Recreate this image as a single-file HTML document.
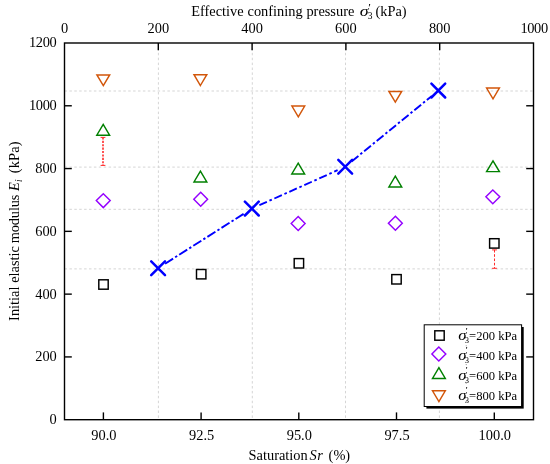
<!DOCTYPE html>
<html lang="en"><head><meta charset="utf-8"><title>Initial elastic modulus vs saturation</title>
<style>html,body{margin:0;padding:0;background:#fff}svg{display:block;font-family:"Liberation Serif","Times New Roman",serif;font-size:14.4px;fill:#000}</style></head><body>
<svg width="550" height="464" viewBox="0 0 550 464">
<rect width="550" height="464" fill="#fff"/>
<g stroke="#d5d5d5" stroke-width="1" stroke-dasharray="2.5 2.4" fill="none">
<line x1="158.4" y1="43.0" x2="158.4" y2="419.7"/>
<line x1="252.3" y1="43.0" x2="252.3" y2="419.7"/>
<line x1="345.5" y1="43.0" x2="345.5" y2="419.7"/>
<line x1="439.4" y1="43.0" x2="439.4" y2="419.7"/>
<line x1="64.5" y1="91" x2="533.5" y2="91"/>
<line x1="64.5" y1="167.1" x2="533.5" y2="167.1"/>
<line x1="64.5" y1="209.3" x2="533.5" y2="209.3"/>
<line x1="64.5" y1="268.9" x2="533.5" y2="268.9"/>
</g>
<g stroke="#000" stroke-width="1.4" fill="none" stroke-linecap="butt">
<rect x="64.5" y="43.0" width="469.0" height="376.7"/>
<line x1="64.5" y1="356.92" x2="71.8" y2="356.92"/><line x1="533.5" y1="356.92" x2="526.2" y2="356.92"/>
<line x1="64.5" y1="294.13" x2="71.8" y2="294.13"/><line x1="533.5" y1="294.13" x2="526.2" y2="294.13"/>
<line x1="64.5" y1="231.35" x2="71.8" y2="231.35"/><line x1="533.5" y1="231.35" x2="526.2" y2="231.35"/>
<line x1="64.5" y1="168.57" x2="71.8" y2="168.57"/><line x1="533.5" y1="168.57" x2="526.2" y2="168.57"/>
<line x1="64.5" y1="105.78" x2="71.8" y2="105.78"/><line x1="533.5" y1="105.78" x2="526.2" y2="105.78"/>
<line x1="158.30" y1="43.0" x2="158.30" y2="50.3"/>
<line x1="252.10" y1="43.0" x2="252.10" y2="50.3"/>
<line x1="345.90" y1="43.0" x2="345.90" y2="50.3"/>
<line x1="439.70" y1="43.0" x2="439.70" y2="50.3"/>
<line x1="103.4" y1="419.7" x2="103.4" y2="412.4"/>
<line x1="201.1" y1="419.7" x2="201.1" y2="412.4"/>
<line x1="298.8" y1="419.7" x2="298.8" y2="412.4"/>
<line x1="396.5" y1="419.7" x2="396.5" y2="412.4"/>
<line x1="494.3" y1="419.7" x2="494.3" y2="412.4"/>
</g>
<g text-anchor="end">
<text x="56.8" y="424.2">0</text>
<text x="56.8" y="361.4">200</text>
<text x="56.8" y="298.6">400</text>
<text x="56.8" y="235.8">600</text>
<text x="56.8" y="173.1">800</text>
<text x="56.4" y="110.3" letter-spacing="-0.35">1000</text>
<text x="56.4" y="46.9" letter-spacing="-0.35">1200</text>
</g><g text-anchor="middle">
<text x="64.5" y="32.5">0</text>
<text x="158.3" y="32.5">200</text>
<text x="252.1" y="32.5">400</text>
<text x="345.9" y="32.5">600</text>
<text x="439.7" y="32.5">800</text>
<text x="534.1" y="32.5" letter-spacing="-0.35">1000</text>
<text x="103.9" y="439.8">90.0</text>
<text x="201.6" y="439.8">92.5</text>
<text x="299.3" y="439.8">95.0</text>
<text x="397.0" y="439.8">97.5</text>
<text x="494.8" y="439.8">100.0</text>
</g>
<text x="191.2" y="15.8">Effective</text><text x="247.5" y="15.8">confining</text><text x="306.4" y="15.8">pressure</text><text transform="translate(359.8 15.8) scale(1.2 1)" font-style="italic" font-size="15">σ</text>
<text x="367.8" y="18.6" font-size="9.5">3</text><text x="368.2" y="10.6" font-size="9.5" font-weight="bold">′</text><text x="375.4" y="15.8">(kPa)</text>
<text x="248.6" y="459.6">Saturation</text><text x="309.4" y="459.6" font-style="italic" letter-spacing="0.6">Sr</text><text x="328.6" y="459.6">(%)</text>
<text transform="translate(19 320.9) rotate(-90)">Initial</text>
<text transform="translate(19 282.85) rotate(-90)">elastic</text>
<text transform="translate(19 243.2) rotate(-90)" letter-spacing="-0.17">modulus</text>
<text transform="translate(19 190.9) rotate(-90)" font-style="italic">E</text>
<text transform="translate(19 173.2) rotate(-90)" letter-spacing="0.15">(kPa)</text>
<text transform="translate(22 182) rotate(-90)" font-style="italic" font-size="9.5">i</text>
<g stroke="#0000ff" fill="none">
<line x1="165.1" y1="263.7" x2="244.8" y2="213.1" stroke-width="1.9" stroke-dasharray="9.5 2.4 2.4 2.4"/>
<line x1="259.4" y1="205.2" x2="337.6" y2="170.2" stroke-width="1.9" stroke-dasharray="8.2 2.8 2.6 2.8"/>
<line x1="351.6" y1="161.5" x2="431.9" y2="95.9" stroke-width="1.9" stroke-dasharray="8.8 2.5 2.4 2.5"/>
<path d="M151.2 261.3L165.0 275.1M151.2 275.1L165.0 261.3" stroke-width="2.5" stroke-linecap="round"/>
<path d="M244.9 201.7L258.7 215.5M244.9 215.5L258.7 201.7" stroke-width="2.5" stroke-linecap="round"/>
<path d="M338.3 159.9L352.1 173.7M338.3 173.7L352.1 159.9" stroke-width="2.5" stroke-linecap="round"/>
<path d="M431.4 83.7L445.2 97.5M431.4 97.5L445.2 83.7" stroke-width="2.5" stroke-linecap="round"/>
</g>
<g stroke="#ff2a2a" stroke-width="1" fill="none">
<line x1="103.0" y1="137.4" x2="103.0" y2="165.4" stroke-width="1.6" stroke-dasharray="2.1 1.3"/><line x1="100.6" y1="137.4" x2="105.4" y2="137.4"/><line x1="100.6" y1="165.4" x2="105.4" y2="165.4"/>
<line x1="494.5" y1="249.9" x2="494.5" y2="268.3" stroke-width="1" stroke-dasharray="2.6 1.7"/><line x1="492.1" y1="249.9" x2="496.9" y2="249.9"/><line x1="492.1" y1="268.3" x2="496.9" y2="268.3"/>
</g>
<g fill="none" stroke-width="1.45" stroke-linejoin="miter">
<g stroke="#000"><rect x="98.8" y="279.8" width="9.4" height="9.4"/><rect x="196.5" y="269.5" width="9.4" height="9.4"/><rect x="294.2" y="258.6" width="9.4" height="9.4"/><rect x="391.8" y="274.6" width="9.4" height="9.4"/><rect x="489.6" y="238.7" width="9.4" height="9.4"/></g>
<g stroke="#9400ff"><path d="M103.3 193.7L110.2 200.6L103.3 207.6L96.3 200.6Z"/><path d="M200.7 192.3L207.6 199.2L200.7 206.2L193.8 199.2Z"/><path d="M298.2 216.6L305.1 223.5L298.2 230.4L291.2 223.5Z"/><path d="M395.4 216.3L402.3 223.2L395.4 230.2L388.4 223.2Z"/><path d="M492.8 189.9L499.8 196.8L492.8 203.8L485.9 196.8Z"/></g>
<g stroke="#008000"><path d="M103.2 124.4L109.6 135.2L96.8 135.2Z"/><path d="M200.4 171.2L206.8 182.0L194.0 182.0Z"/><path d="M298.2 163.2L304.6 174.0L291.8 174.0Z"/><path d="M395.3 176.2L401.7 187.0L388.9 187.0Z"/><path d="M493.0 160.8L499.4 171.6L486.6 171.6Z"/></g>
<g stroke="#d2560a"><path d="M103.3 85.7L109.7 74.9L96.9 74.9Z"/><path d="M200.4 85.5L206.8 74.7L194.0 74.7Z"/><path d="M298.3 116.8L304.7 106.0L291.9 106.0Z"/><path d="M395.3 102.2L401.7 91.4L388.9 91.4Z"/><path d="M493.0 98.8L499.4 88.0L486.6 88.0Z"/></g>
</g>
<rect x="426.4" y="327" width="97.3" height="81.6" fill="#000"/>
<rect x="424.2" y="324.8" width="97.4" height="81.7" fill="#fff" stroke="#000" stroke-width="1"/>
<g fill="none" stroke-width="1.45">
<g stroke="#000"><rect x="434.8" y="330.8" width="9.4" height="9.4"/></g>
<g stroke="#9400ff"><path d="M438.8 347.1L445.8 354.0L438.8 360.9L431.9 354.0Z"/></g>
<g stroke="#008000"><path d="M438.9 367.6L445.3 378.4L432.5 378.4Z"/></g>
<g stroke="#d2560a"><path d="M438.9 401.6L445.3 390.8L432.5 390.8Z"/></g>
</g>
<g fill="#8a8a8a"><circle cx="466.2" cy="345.8" r="0.55"/><circle cx="466.2" cy="364.6" r="0.55"/><circle cx="466.2" cy="383.1" r="0.55"/><circle cx="466.2" cy="401.3" r="0.55"/></g>
<text transform="translate(458.3 340.1) scale(1.2 1)" font-style="italic" font-size="14">σ</text><text x="464.7" y="343.1" font-size="8.5">3</text><text x="465.4" y="333.5" font-size="8.5" font-weight="bold">′</text><text x="469.1" y="340.1" font-size="12.6">=200 kPa</text>
<text transform="translate(458.3 359.8) scale(1.2 1)" font-style="italic" font-size="14">σ</text><text x="464.7" y="362.8" font-size="8.5">3</text><text x="465.4" y="353.2" font-size="8.5" font-weight="bold">′</text><text x="469.1" y="359.8" font-size="12.6">=400 kPa</text>
<text transform="translate(458.3 379.8) scale(1.2 1)" font-style="italic" font-size="14">σ</text><text x="464.7" y="382.8" font-size="8.5">3</text><text x="465.4" y="373.2" font-size="8.5" font-weight="bold">′</text><text x="469.1" y="379.8" font-size="12.6">=600 kPa</text>
<text transform="translate(458.3 399.7) scale(1.2 1)" font-style="italic" font-size="14">σ</text><text x="464.7" y="402.7" font-size="8.5">3</text><text x="465.4" y="393.1" font-size="8.5" font-weight="bold">′</text><text x="469.1" y="399.7" font-size="12.6">=800 kPa</text>
</svg></body></html>
